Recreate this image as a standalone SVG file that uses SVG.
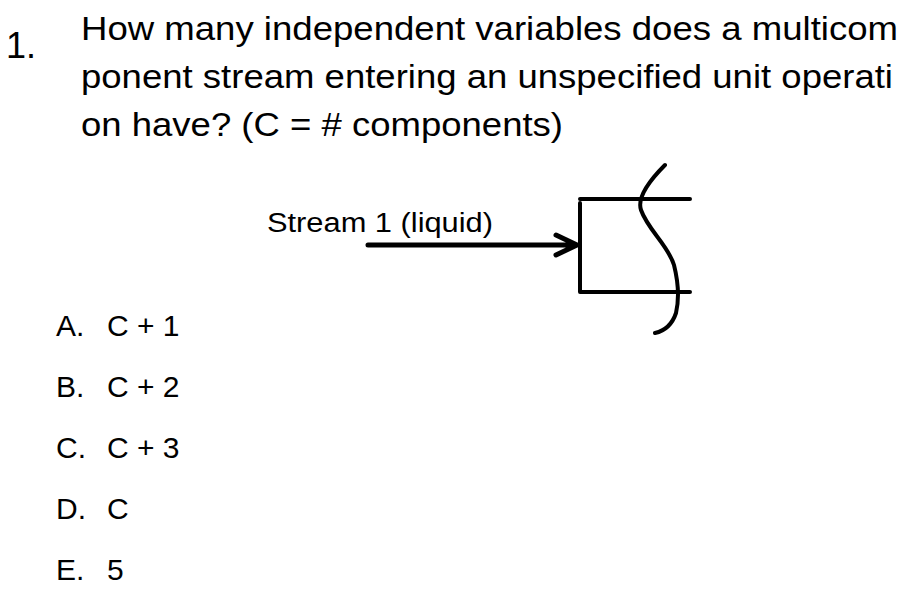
<svg xmlns="http://www.w3.org/2000/svg" width="902" height="599" viewBox="0 0 902 599">
<style>
text{font-family:"Liberation Sans",Arial,sans-serif;fill:#000}
.q{font-size:33px}
.o{font-size:30px}
.ln{stroke:#000;stroke-width:4;fill:none;stroke-linecap:round;stroke-linejoin:round}
</style>
<rect width="902" height="599" fill="#fff"/>
<g id="question">
<text x="6" y="58" style="font-size:36px">1.</text>
<text class="q" x="81" y="40" textLength="817" lengthAdjust="spacingAndGlyphs">How many independent variables does a multicom</text>
<text class="q" x="81" y="88" textLength="812" lengthAdjust="spacingAndGlyphs">ponent stream entering an unspecified unit operati</text>
<text class="q" x="81" y="136" textLength="482" lengthAdjust="spacingAndGlyphs">on have? (C = # components)</text>
</g>
<g id="unit">
<path class="ln" d="M580 199H690M580 203V292H690"/>
<path class="ln" d="M665 165C648 182 637 198 641 210C648 230 668 245 674 265C679 285 679 300 676 313C672 325 664 331 655 333"/>
</g>
<g id="connectors">
<path class="ln" style="stroke-width:5" d="M368 245H576M556 235L577 245L556 255"/>
</g>
<g id="stream-label"><text x="267" y="232" style="font-size:27px" textLength="226" lengthAdjust="spacingAndGlyphs">Stream 1 (liquid)</text></g>
<g id="options">
<text class="o" x="56" y="336">A.</text><text class="o" x="107" y="336">C + 1</text>
<text class="o" x="56" y="397">B.</text><text class="o" x="107" y="397">C + 2</text>
<text class="o" x="56" y="458">C.</text><text class="o" x="107" y="458">C + 3</text>
<text class="o" x="56" y="519">D.</text><text class="o" x="107" y="519">C</text>
<text class="o" x="56" y="580">E.</text><text class="o" x="107" y="580">5</text>
</g>
</svg>
